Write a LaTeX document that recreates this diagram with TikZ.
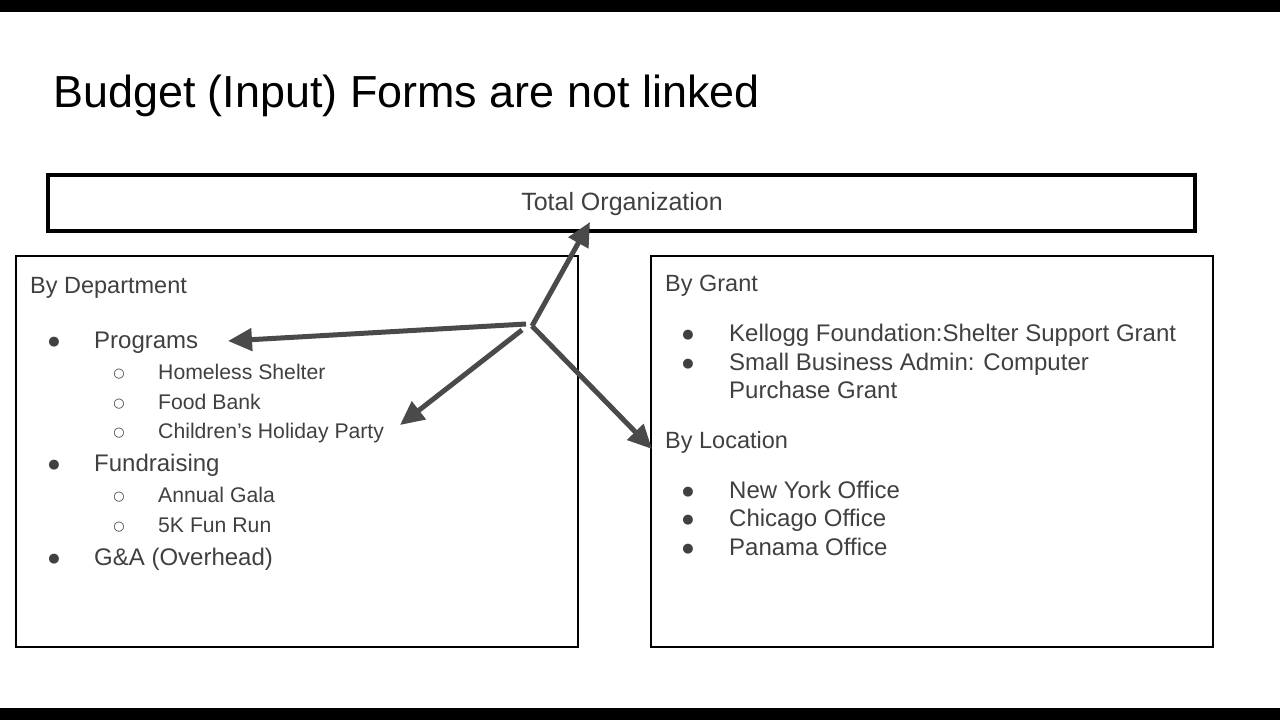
\documentclass[tikz,border=0pt]{standalone}
\usepackage{fontspec}
\setmainfont{Liberation Sans}
\newfontfamily\symfont{DejaVu Sans}
\usetikzlibrary{arrows.meta}
\definecolor{txtgray}{HTML}{404040}
\definecolor{arrgray}{HTML}{4A4A4A}
\begin{document}
\begin{tikzpicture}[x=1pt,y=-1pt,
  head/.style={anchor=base west,font=\fontsize{23.5}{28}\selectfont,text=txtgray,inner sep=0pt},
  item/.style={anchor=base west,font=\fontsize{24}{28}\selectfont,text=txtgray,inner sep=0pt},
  subitem/.style={anchor=base west,font=\fontsize{21.2}{25}\selectfont,text=txtgray,inner sep=0pt},
  dot/.style={anchor=base,font=\symfont\fontsize{13}{15}\selectfont,text=txtgray,inner sep=0pt},
  panel/.style={draw=black,line width=2pt},
  link/.style={draw=arrgray,line width=5pt,-{Triangle[length=24pt,width=22pt]}}]
\useasboundingbox (0,0) rectangle (1280,720);
\fill[white] (0,0) rectangle (1280,720);
\fill[black] (0,0) rectangle (1280,12);
\fill[black] (0,708) rectangle (1280,720);
\node[anchor=base west,inner sep=0pt,font=\fontsize{44.9}{52}\selectfont] (title) at (53,107) {Budget (Input) Forms are not linked};
% top box
\draw[line width=4pt] (48,175) rectangle (1195,231);
\node[font=\fontsize{25}{29}\selectfont,text=txtgray] (total) at (622,204) {Total Organization};
% left panel
\draw[panel] (16,256) rectangle (578,647);
\node[head] (dept) at (30,293) {By Department};
\node[dot] at (54,345) {●}; \node[item] (prog) at (94,348) {Programs};
\node[dot] at (119,377) {○}; \node[subitem] (shelter) at (158,379) {Homeless Shelter};
\node[dot] at (119,407) {○}; \node[subitem] (food) at (158,409) {Food Bank};
\node[dot] at (119,436) {○}; \node[subitem] (party) at (158,438) {Children’s Holiday Party};
\node[dot] at (54,468) {●}; \node[item] (fund) at (94,471) {Fundraising};
\node[dot] at (119,500) {○}; \node[subitem] (gala) at (158,502) {Annual Gala};
\node[dot] at (119,530) {○}; \node[subitem] (run) at (158,532) {5K Fun Run};
\node[dot] at (54,562) {●}; \node[item] (ga) at (94,565) {G\&A (Overhead)};
% right panel
\draw[panel] (651,256) rectangle (1213,647);
\node[head] (grant) at (665,291) {By Grant};
\node[dot] at (688,338) {●}; \node[item] (kellogg) at (729,341) {Kellogg Foundation:Shelter Support Grant};
\node[dot] at (688,367) {●}; \node[item] (sba) at (729,370) {Small Business Admin: Computer};
\node[item] (sba2) at (729,398) {Purchase Grant};
\node[head] (loc) at (665,448) {By Location};
\node[dot] at (688,495) {●}; \node[item] (ny) at (729,498) {New York Office};
\node[dot] at (688,523) {●}; \node[item] (chi) at (729,526) {Chicago Office};
\node[dot] at (688,552) {●}; \node[item] (pan) at (729,555) {Panama Office};
% arrows
\coordinate (hub) at (532,326);
\coordinate (hubL) at (526,324);
\coordinate (hubD) at (522,330);
\coordinate (toTop) at (590,222);
\coordinate (toProg) at (228,341);
\coordinate (toParty) at (400,425);
\coordinate (toRight) at (652,449);
\draw[link] (hub) -- (toTop);
\draw[link] (hubL) -- (toProg);
\draw[link] (hubD) -- (toParty);
\draw[link] (hub) -- (toRight);
\end{tikzpicture}
\end{document}
